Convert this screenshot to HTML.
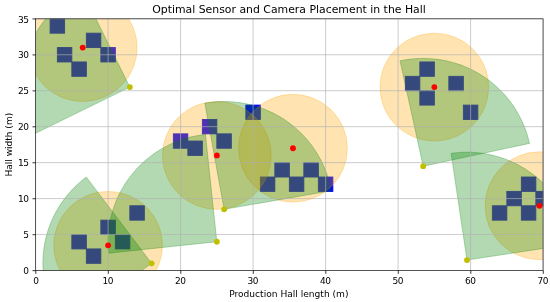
<!DOCTYPE html><html><head><meta charset="utf-8"><title>Optimal Sensor and Camera Placement in the Hall</title>
<style>html,body{margin:0;padding:0;background:#fff;}svg{display:block;}text{font-family:"DejaVu Sans", "Liberation Sans", sans-serif;fill:#000;}</style></head><body>
<svg width="550" height="302" viewBox="0 0 550 302">
<rect width="550" height="302" fill="#fff"/>
<defs><clipPath id="ax"><rect x="35.60" y="18.80" width="507.50" height="251.70"/></clipPath></defs>
<g clip-path="url(#ax)">
<rect x="50.10" y="18.80" width="14.50" height="14.38" fill="#0000ff" stroke="#0000ff" stroke-width="0.9"/>
<rect x="86.35" y="33.18" width="14.50" height="14.38" fill="#0000ff" stroke="#0000ff" stroke-width="0.9"/>
<rect x="57.35" y="47.57" width="14.50" height="14.38" fill="#0000ff" stroke="#0000ff" stroke-width="0.9"/>
<rect x="100.85" y="47.57" width="14.50" height="14.38" fill="#0000ff" stroke="#0000ff" stroke-width="0.9"/>
<rect x="71.85" y="61.95" width="14.50" height="14.38" fill="#0000ff" stroke="#0000ff" stroke-width="0.9"/>
<rect x="71.85" y="234.54" width="14.50" height="14.38" fill="#0000ff" stroke="#0000ff" stroke-width="0.9"/>
<rect x="86.35" y="248.93" width="14.50" height="14.38" fill="#0000ff" stroke="#0000ff" stroke-width="0.9"/>
<rect x="100.85" y="220.16" width="14.50" height="14.38" fill="#0000ff" stroke="#0000ff" stroke-width="0.9"/>
<rect x="115.35" y="234.54" width="14.50" height="14.38" fill="#0000ff" stroke="#0000ff" stroke-width="0.9"/>
<rect x="129.85" y="205.78" width="14.50" height="14.38" fill="#0000ff" stroke="#0000ff" stroke-width="0.9"/>
<rect x="173.35" y="133.86" width="14.50" height="14.38" fill="#0000ff" stroke="#0000ff" stroke-width="0.9"/>
<rect x="187.85" y="141.05" width="14.50" height="14.38" fill="#0000ff" stroke="#0000ff" stroke-width="0.9"/>
<rect x="202.35" y="119.48" width="14.50" height="14.38" fill="#0000ff" stroke="#0000ff" stroke-width="0.9"/>
<rect x="216.85" y="133.86" width="14.50" height="14.38" fill="#0000ff" stroke="#0000ff" stroke-width="0.9"/>
<rect x="245.85" y="105.10" width="14.50" height="14.38" fill="#0000ff" stroke="#0000ff" stroke-width="0.9"/>
<rect x="260.35" y="177.01" width="14.50" height="14.38" fill="#0000ff" stroke="#0000ff" stroke-width="0.9"/>
<rect x="274.85" y="162.63" width="14.50" height="14.38" fill="#0000ff" stroke="#0000ff" stroke-width="0.9"/>
<rect x="289.35" y="177.01" width="14.50" height="14.38" fill="#0000ff" stroke="#0000ff" stroke-width="0.9"/>
<rect x="303.85" y="162.63" width="14.50" height="14.38" fill="#0000ff" stroke="#0000ff" stroke-width="0.9"/>
<rect x="318.35" y="177.01" width="14.50" height="14.38" fill="#0000ff" stroke="#0000ff" stroke-width="0.9"/>
<rect x="419.85" y="61.95" width="14.50" height="14.38" fill="#0000ff" stroke="#0000ff" stroke-width="0.9"/>
<rect x="405.35" y="76.33" width="14.50" height="14.38" fill="#0000ff" stroke="#0000ff" stroke-width="0.9"/>
<rect x="419.85" y="90.71" width="14.50" height="14.38" fill="#0000ff" stroke="#0000ff" stroke-width="0.9"/>
<rect x="448.85" y="76.33" width="14.50" height="14.38" fill="#0000ff" stroke="#0000ff" stroke-width="0.9"/>
<rect x="463.35" y="105.10" width="14.50" height="14.38" fill="#0000ff" stroke="#0000ff" stroke-width="0.9"/>
<rect x="521.35" y="177.01" width="14.50" height="14.38" fill="#0000ff" stroke="#0000ff" stroke-width="0.9"/>
<rect x="506.85" y="191.39" width="14.50" height="14.38" fill="#0000ff" stroke="#0000ff" stroke-width="0.9"/>
<rect x="535.85" y="191.39" width="14.50" height="14.38" fill="#0000ff" stroke="#0000ff" stroke-width="0.9"/>
<rect x="492.35" y="205.78" width="14.50" height="14.38" fill="#0000ff" stroke="#0000ff" stroke-width="0.9"/>
<rect x="521.35" y="205.78" width="14.50" height="14.38" fill="#0000ff" stroke="#0000ff" stroke-width="0.9"/>
<ellipse cx="82.72" cy="47.57" rx="54.38" ry="53.94" fill="#ffa500" fill-opacity="0.3" stroke="#ffa500" stroke-opacity="0.3" stroke-width="0.9"/>
<ellipse cx="108.10" cy="245.33" rx="54.38" ry="53.94" fill="#ffa500" fill-opacity="0.3" stroke="#ffa500" stroke-opacity="0.3" stroke-width="0.9"/>
<ellipse cx="216.85" cy="155.44" rx="54.38" ry="53.94" fill="#ffa500" fill-opacity="0.3" stroke="#ffa500" stroke-opacity="0.3" stroke-width="0.9"/>
<ellipse cx="292.98" cy="148.25" rx="54.38" ry="53.94" fill="#ffa500" fill-opacity="0.3" stroke="#ffa500" stroke-opacity="0.3" stroke-width="0.9"/>
<ellipse cx="434.35" cy="87.12" rx="54.38" ry="53.94" fill="#ffa500" fill-opacity="0.3" stroke="#ffa500" stroke-opacity="0.3" stroke-width="0.9"/>
<ellipse cx="539.48" cy="205.78" rx="54.38" ry="53.94" fill="#ffa500" fill-opacity="0.3" stroke="#ffa500" stroke-opacity="0.3" stroke-width="0.9"/>
<path d="M129.85 87.12 L81.84 -9.67 L79.30 -8.39 L76.79 -7.04 L74.32 -5.63 L71.89 -4.15 L69.50 -2.62 L67.15 -1.02 L64.84 0.64 L62.58 2.36 L60.36 4.14 L58.19 5.98 L56.07 7.87 L54.01 9.81 L51.99 11.81 L50.03 13.86 L48.12 15.96 L46.27 18.11 L44.47 20.30 L42.74 22.55 L41.06 24.83 L39.45 27.16 L37.89 29.53 L36.40 31.94 L34.98 34.39 L33.62 36.88 L32.32 39.39 L31.09 41.95 L29.94 44.53 L28.84 47.14 L27.82 49.78 L26.87 52.44 L25.99 55.13 L25.18 57.84 L24.44 60.57 L23.78 63.32 L23.19 66.09 L22.67 68.87 L22.22 71.66 L21.85 74.46 L21.55 77.28 L21.33 80.09 L21.18 82.92 L21.11 85.74 L21.11 88.57 L21.19 91.40 L21.34 94.22 L21.56 97.04 L21.86 99.85 L22.23 102.65 L22.68 105.45 L23.20 108.22 L23.80 110.99 L24.46 113.74 L25.20 116.47 L26.01 119.18 L26.90 121.87 L27.85 124.53 L28.87 127.17 L29.97 129.78 L31.13 132.36 L32.36 134.91 Z" fill="#008000" fill-opacity="0.3" stroke="#008000" stroke-opacity="0.3" stroke-width="0.9" stroke-linejoin="miter"/>
<path d="M151.60 263.31 L86.30 177.05 L84.05 178.77 L81.84 180.55 L79.68 182.39 L77.57 184.29 L75.51 186.24 L73.50 188.24 L71.55 190.29 L69.65 192.40 L67.81 194.55 L66.02 196.75 L64.29 198.99 L62.63 201.28 L61.02 203.61 L59.48 205.99 L57.99 208.40 L56.58 210.85 L55.23 213.33 L53.94 215.85 L52.72 218.40 L51.57 220.99 L50.49 223.60 L49.47 226.24 L48.53 228.90 L47.66 231.59 L46.86 234.30 L46.13 237.03 L45.47 239.78 L44.88 242.54 L44.37 245.32 L43.93 248.11 L43.57 250.91 L43.28 253.72 L43.06 256.54 L42.92 259.36 L42.86 262.18 L42.86 265.00 L42.95 267.83 L43.10 270.65 L43.33 273.46 L43.64 276.27 L44.02 279.07 L44.47 281.85 L45.00 284.63 L45.59 287.39 L46.27 290.14 L47.01 292.86 L47.83 295.57 L48.71 298.25 L49.67 300.91 L50.70 303.54 L51.79 306.15 L52.96 308.73 L54.19 311.27 L55.49 313.78 L56.86 316.26 L58.29 318.70 L59.78 321.11 L61.34 323.47 L62.95 325.80 L64.63 328.08 Z" fill="#008000" fill-opacity="0.3" stroke="#008000" stroke-opacity="0.3" stroke-width="0.9" stroke-linejoin="miter"/>
<path d="M216.85 241.73 L205.48 134.45 L202.65 134.79 L199.83 135.19 L197.02 135.67 L194.23 136.22 L191.45 136.85 L188.69 137.54 L185.94 138.31 L183.22 139.15 L180.52 140.06 L177.85 141.04 L175.20 142.09 L172.58 143.20 L169.99 144.39 L167.44 145.64 L164.92 146.96 L162.43 148.34 L159.98 149.79 L157.57 151.30 L155.20 152.87 L152.88 154.50 L150.59 156.19 L148.36 157.95 L146.17 159.76 L144.03 161.62 L141.93 163.54 L139.89 165.52 L137.91 167.54 L135.97 169.62 L134.10 171.75 L132.28 173.92 L130.51 176.14 L128.81 178.41 L127.17 180.72 L125.59 183.07 L124.07 185.47 L122.61 187.90 L121.22 190.36 L119.90 192.87 L118.64 195.40 L117.45 197.97 L116.33 200.57 L115.28 203.20 L114.29 205.85 L113.38 208.53 L112.54 211.23 L111.77 213.95 L111.07 216.70 L110.44 219.45 L109.89 222.23 L109.41 225.01 L109.01 227.81 L108.68 230.62 L108.42 233.44 L108.24 236.26 L108.13 239.08 L108.10 241.91 L108.14 244.74 L108.26 247.56 L108.45 250.38 L108.72 253.20 Z" fill="#008000" fill-opacity="0.3" stroke="#008000" stroke-opacity="0.3" stroke-width="0.9" stroke-linejoin="miter"/>
<path d="M224.10 209.37 L331.21 190.73 L330.68 187.95 L330.08 185.18 L329.40 182.43 L328.65 179.70 L327.83 176.99 L326.94 174.30 L325.98 171.63 L324.94 168.99 L323.84 166.38 L322.67 163.80 L321.43 161.25 L320.12 158.73 L318.75 156.25 L317.31 153.80 L315.81 151.39 L314.24 149.03 L312.61 146.70 L310.92 144.42 L309.17 142.18 L307.37 139.99 L305.50 137.84 L303.58 135.75 L301.60 133.70 L299.58 131.71 L297.49 129.77 L295.36 127.89 L293.18 126.06 L290.95 124.29 L288.68 122.58 L286.36 120.93 L284.00 119.34 L281.59 117.81 L279.15 116.34 L276.67 114.94 L274.15 113.61 L271.60 112.34 L269.02 111.13 L266.40 110.00 L263.76 108.93 L261.09 107.93 L258.39 107.00 L255.67 106.15 L252.93 105.36 L250.16 104.65 L247.38 104.00 L244.59 103.43 L241.78 102.94 L238.95 102.51 L236.12 102.16 L233.28 101.89 L230.43 101.68 L227.58 101.56 L224.72 101.50 L221.87 101.52 L219.02 101.62 L216.17 101.79 L213.32 102.03 L210.49 102.35 L207.66 102.74 L204.84 103.21 Z" fill="#008000" fill-opacity="0.3" stroke="#008000" stroke-opacity="0.3" stroke-width="0.9" stroke-linejoin="miter"/>
<path d="M423.19 166.22 L529.48 143.43 L528.84 140.67 L528.13 137.94 L527.35 135.22 L526.49 132.52 L525.56 129.85 L524.57 127.20 L523.50 124.58 L522.37 121.98 L521.16 119.42 L519.89 116.89 L518.56 114.39 L517.16 111.93 L515.69 109.51 L514.16 107.12 L512.57 104.78 L510.91 102.47 L509.20 100.22 L507.42 98.00 L505.59 95.84 L503.70 93.72 L501.76 91.65 L499.76 89.63 L497.71 87.67 L495.61 85.76 L493.46 83.90 L491.26 82.10 L489.02 80.36 L486.73 78.68 L484.39 77.06 L482.02 75.50 L479.60 74.00 L477.14 72.57 L474.65 71.20 L472.12 69.89 L469.56 68.65 L466.97 67.48 L464.34 66.38 L461.69 65.34 L459.01 64.37 L456.31 63.48 L453.58 62.65 L450.84 61.90 L448.07 61.22 L445.29 60.60 L442.49 60.07 L439.68 59.60 L436.86 59.21 L434.02 58.89 L431.18 58.65 L428.34 58.47 L425.49 58.38 L422.64 58.35 L419.79 58.41 L416.94 58.53 L414.10 58.73 L411.26 59.00 L408.44 59.35 L405.62 59.77 L402.81 60.26 L400.02 60.83 Z" fill="#008000" fill-opacity="0.3" stroke="#008000" stroke-opacity="0.3" stroke-width="0.9" stroke-linejoin="miter"/>
<path d="M466.98 260.07 L574.47 243.76 L574.01 240.98 L573.47 238.22 L572.86 235.47 L572.17 232.74 L571.42 230.02 L570.59 227.33 L569.70 224.66 L568.73 222.01 L567.70 219.39 L566.59 216.80 L565.42 214.24 L564.18 211.70 L562.87 209.21 L561.50 206.74 L560.07 204.31 L558.57 201.92 L557.01 199.57 L555.39 197.26 L553.71 195.00 L551.97 192.77 L550.17 190.60 L548.31 188.47 L546.40 186.39 L544.43 184.36 L542.42 182.38 L540.35 180.45 L538.23 178.58 L536.06 176.76 L533.85 175.00 L531.59 173.30 L529.28 171.66 L526.93 170.08 L524.55 168.56 L522.12 167.10 L519.66 165.70 L517.16 164.37 L514.62 163.11 L512.06 161.91 L509.46 160.77 L506.83 159.71 L504.18 158.71 L501.50 157.78 L498.80 156.92 L496.07 156.13 L493.33 155.42 L490.57 154.77 L487.79 154.20 L485.00 153.69 L482.19 153.26 L479.38 152.91 L476.56 152.62 L473.73 152.41 L470.89 152.27 L468.06 152.21 L465.22 152.22 L462.38 152.30 L459.55 152.45 L456.72 152.68 L453.90 152.98 L451.09 153.36 Z" fill="#008000" fill-opacity="0.3" stroke="#008000" stroke-opacity="0.3" stroke-width="0.9" stroke-linejoin="miter"/>
<line x1="35.60" y1="18.80" x2="35.60" y2="270.50" stroke="#b0b0b0" stroke-width="0.65"/>
<line x1="108.10" y1="18.80" x2="108.10" y2="270.50" stroke="#b0b0b0" stroke-width="0.65"/>
<line x1="180.60" y1="18.80" x2="180.60" y2="270.50" stroke="#b0b0b0" stroke-width="0.65"/>
<line x1="253.10" y1="18.80" x2="253.10" y2="270.50" stroke="#b0b0b0" stroke-width="0.65"/>
<line x1="325.60" y1="18.80" x2="325.60" y2="270.50" stroke="#b0b0b0" stroke-width="0.65"/>
<line x1="398.10" y1="18.80" x2="398.10" y2="270.50" stroke="#b0b0b0" stroke-width="0.65"/>
<line x1="470.60" y1="18.80" x2="470.60" y2="270.50" stroke="#b0b0b0" stroke-width="0.65"/>
<line x1="543.10" y1="18.80" x2="543.10" y2="270.50" stroke="#b0b0b0" stroke-width="0.65"/>
<line x1="35.60" y1="270.50" x2="543.10" y2="270.50" stroke="#b0b0b0" stroke-width="0.65"/>
<line x1="35.60" y1="234.54" x2="543.10" y2="234.54" stroke="#b0b0b0" stroke-width="0.65"/>
<line x1="35.60" y1="198.59" x2="543.10" y2="198.59" stroke="#b0b0b0" stroke-width="0.65"/>
<line x1="35.60" y1="162.63" x2="543.10" y2="162.63" stroke="#b0b0b0" stroke-width="0.65"/>
<line x1="35.60" y1="126.67" x2="543.10" y2="126.67" stroke="#b0b0b0" stroke-width="0.65"/>
<line x1="35.60" y1="90.71" x2="543.10" y2="90.71" stroke="#b0b0b0" stroke-width="0.65"/>
<line x1="35.60" y1="54.76" x2="543.10" y2="54.76" stroke="#b0b0b0" stroke-width="0.65"/>
<line x1="35.60" y1="18.80" x2="543.10" y2="18.80" stroke="#b0b0b0" stroke-width="0.65"/>
</g>
<g clip-path="url(#ax)">
<circle cx="82.72" cy="47.57" r="2.9" fill="#ff0000"/>
<circle cx="108.10" cy="245.33" r="2.9" fill="#ff0000"/>
<circle cx="216.85" cy="155.44" r="2.9" fill="#ff0000"/>
<circle cx="292.98" cy="148.25" r="2.9" fill="#ff0000"/>
<circle cx="434.35" cy="87.12" r="2.9" fill="#ff0000"/>
<circle cx="539.48" cy="205.78" r="2.9" fill="#ff0000"/>
<circle cx="129.85" cy="87.12" r="2.9" fill="#bfbf00"/>
<circle cx="151.60" cy="263.31" r="2.9" fill="#bfbf00"/>
<circle cx="216.85" cy="241.73" r="2.9" fill="#bfbf00"/>
<circle cx="224.10" cy="209.37" r="2.9" fill="#bfbf00"/>
<circle cx="423.19" cy="166.22" r="2.9" fill="#bfbf00"/>
<circle cx="466.98" cy="260.07" r="2.9" fill="#bfbf00"/>
</g>
<rect x="35.60" y="18.80" width="507.50" height="251.70" fill="none" stroke="#1c1c1c" stroke-width="0.72"/>
<line x1="35.80" y1="270.50" x2="35.80" y2="273.80" stroke="#000" stroke-width="0.8"/>
<text x="35.90" y="284.00" font-size="9" letter-spacing="-0.5" text-anchor="middle">0</text>
<line x1="108.30" y1="270.50" x2="108.30" y2="273.80" stroke="#000" stroke-width="0.8"/>
<text x="107.70" y="284.00" font-size="9" letter-spacing="-0.5" text-anchor="middle">10</text>
<line x1="180.80" y1="270.50" x2="180.80" y2="273.80" stroke="#000" stroke-width="0.8"/>
<text x="180.20" y="284.00" font-size="9" letter-spacing="-0.5" text-anchor="middle">20</text>
<line x1="253.30" y1="270.50" x2="253.30" y2="273.80" stroke="#000" stroke-width="0.8"/>
<text x="252.70" y="284.00" font-size="9" letter-spacing="-0.5" text-anchor="middle">30</text>
<line x1="325.80" y1="270.50" x2="325.80" y2="273.80" stroke="#000" stroke-width="0.8"/>
<text x="325.20" y="284.00" font-size="9" letter-spacing="-0.5" text-anchor="middle">40</text>
<line x1="398.30" y1="270.50" x2="398.30" y2="273.80" stroke="#000" stroke-width="0.8"/>
<text x="397.70" y="284.00" font-size="9" letter-spacing="-0.5" text-anchor="middle">50</text>
<line x1="470.80" y1="270.50" x2="470.80" y2="273.80" stroke="#000" stroke-width="0.8"/>
<text x="470.20" y="284.00" font-size="9" letter-spacing="-0.5" text-anchor="middle">60</text>
<line x1="543.30" y1="270.50" x2="543.30" y2="273.80" stroke="#000" stroke-width="0.8"/>
<text x="542.70" y="284.00" font-size="9" letter-spacing="-0.5" text-anchor="middle">70</text>
<line x1="32.50" y1="270.65" x2="35.60" y2="270.65" stroke="#000" stroke-width="0.8"/>
<text x="28.50" y="274.20" font-size="9" letter-spacing="-0.5" text-anchor="end">0</text>
<line x1="32.50" y1="234.69" x2="35.60" y2="234.69" stroke="#000" stroke-width="0.8"/>
<text x="28.50" y="238.24" font-size="9" letter-spacing="-0.5" text-anchor="end">5</text>
<line x1="32.50" y1="198.74" x2="35.60" y2="198.74" stroke="#000" stroke-width="0.8"/>
<text x="28.50" y="202.29" font-size="9" letter-spacing="-0.5" text-anchor="end">10</text>
<line x1="32.50" y1="162.78" x2="35.60" y2="162.78" stroke="#000" stroke-width="0.8"/>
<text x="28.50" y="166.33" font-size="9" letter-spacing="-0.5" text-anchor="end">15</text>
<line x1="32.50" y1="126.82" x2="35.60" y2="126.82" stroke="#000" stroke-width="0.8"/>
<text x="28.50" y="130.37" font-size="9" letter-spacing="-0.5" text-anchor="end">20</text>
<line x1="32.50" y1="90.86" x2="35.60" y2="90.86" stroke="#000" stroke-width="0.8"/>
<text x="28.50" y="94.41" font-size="9" letter-spacing="-0.5" text-anchor="end">25</text>
<line x1="32.50" y1="54.91" x2="35.60" y2="54.91" stroke="#000" stroke-width="0.8"/>
<text x="28.50" y="58.46" font-size="9" letter-spacing="-0.5" text-anchor="end">30</text>
<line x1="32.50" y1="18.95" x2="35.60" y2="18.95" stroke="#000" stroke-width="0.8"/>
<text x="28.50" y="22.50" font-size="9" letter-spacing="-0.5" text-anchor="end">35</text>
<text x="289.00" y="13.1" font-size="10.88" text-anchor="middle">Optimal Sensor and Camera Placement in the Hall</text>
<text x="288.85" y="296.5" font-size="9.08" text-anchor="middle">Production Hall length (m)</text>
<text transform="translate(12.2 144.65) rotate(-90)" font-size="9" text-anchor="middle">Hall width (m)</text>
</svg></body></html>
